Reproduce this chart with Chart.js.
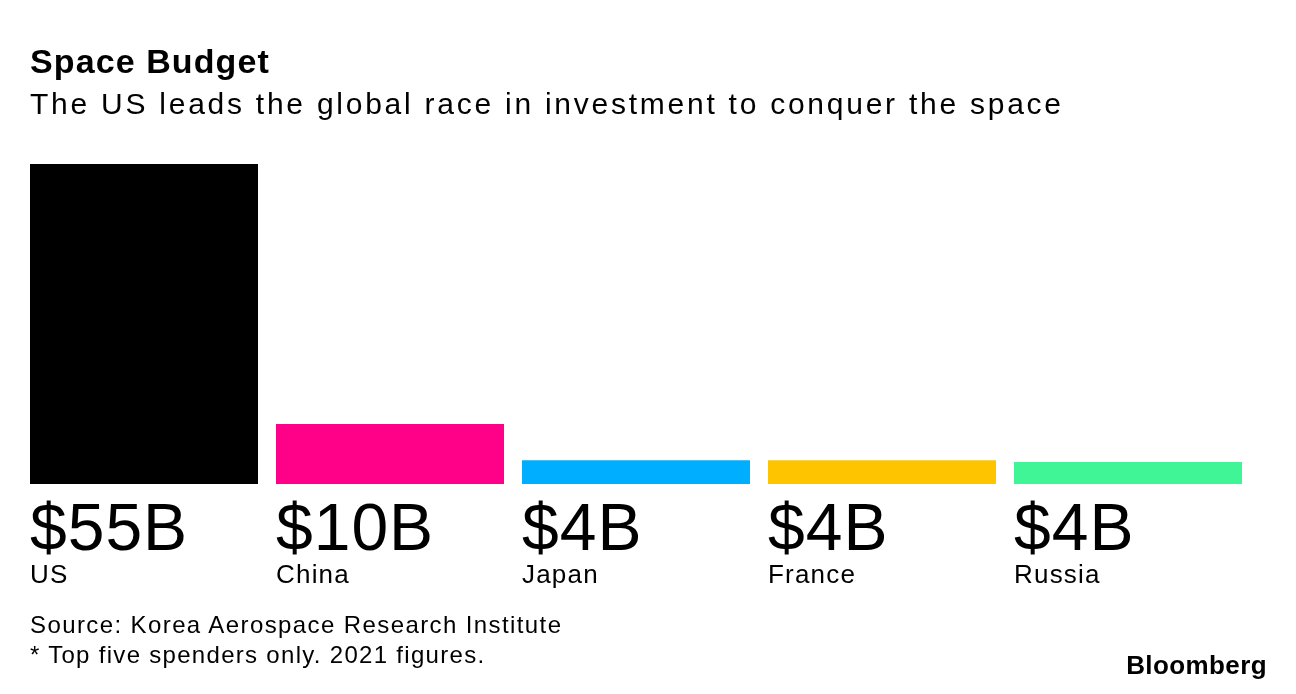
<!DOCTYPE html>
<html>
<head>
<meta charset="utf-8">
<script src="https://cdn.jsdelivr.net/npm/chart.js@4"></script>
<style>
  html, body { margin: 0; padding: 0; background: #fff; }
  body { width: 1296px; height: 694px; position: relative; overflow: hidden; font-family: "Liberation Sans", Arial, sans-serif; color: #000; }
  .t { position: absolute; left: 30px; line-height: 1; white-space: nowrap; }
  #title { top: 44px; font-size: 34px; font-weight: bold; letter-spacing: 1.1px; }
  #subtitle { top: 89px; font-size: 30px; letter-spacing: 2.75px; }
  #source { top: 613px; font-size: 24px; letter-spacing: 1.4px; }
  #note { top: 643px; font-size: 24px; letter-spacing: 1.3px; }
  #logo { position: absolute; right: 29px; left: auto; top: 652px; font-size: 26px; font-weight: bold; letter-spacing: 0.4px; line-height: 1; }
  #wrap { position: absolute; left: 0; top: 0; width: 1296px; height: 694px; }
</style>
</head>
<body>
<div id="wrap"><canvas id="c"></canvas></div>
<div class="t" id="title">Space Budget</div>
<div class="t" id="subtitle">The US leads the global race in investment to conquer the space</div>
<div class="t" id="source">Source: Korea Aerospace Research Institute</div>
<div class="t" id="note">* Top five spenders only. 2021 figures.</div>
<div id="logo">Bloomberg</div>
<script>
const categories = ["US", "China", "Japan", "France", "Russia"];
const budgets = [55, 10.3, 4.1, 4.1, 3.8];
const valueLabels = ["$55B", "$10B", "$4B", "$4B", "$4B"];
const barColors = ["#000000", "#ff0088", "#00aeff", "#ffc400", "#40f595"];

const labelPlugin = {
  id: "barLabels",
  afterDatasetsDraw(chart) {
    const ctx = chart.ctx;
    const meta = chart.getDatasetMeta(0);
    const bottom = chart.chartArea.bottom;
    ctx.save();
    ctx.fillStyle = "#000";
    ctx.textAlign = "left";
    ctx.textBaseline = "alphabetic";
    meta.data.forEach((bar, i) => {
      const left = bar.x - bar.width / 2;
      ctx.font = '66px "Liberation Sans", Arial, sans-serif';
      ctx.letterSpacing = "1px";
      ctx.fillText(valueLabels[i], left, bottom + 66);
      ctx.font = '26px "Liberation Sans", Arial, sans-serif';
      ctx.letterSpacing = "1.2px";
      ctx.fillText(categories[i], left, bottom + 99);
    });
    ctx.letterSpacing = "0px";
    ctx.restore();
  }
};

new Chart(document.getElementById("c"), {
  type: "bar",
  data: {
    labels: categories,
    datasets: [{
      data: budgets,
      backgroundColor: barColors,
      borderWidth: 0,
      barPercentage: 228 / 246,
      categoryPercentage: 1
    }]
  },
  options: {
    responsive: true,
    maintainAspectRatio: false,
    animation: false,
    layout: { padding: { left: 21, right: 45, top: 164, bottom: 210 } },
    plugins: { legend: { display: false }, tooltip: { enabled: false }, title: { display: false } },
    scales: {
      x: { display: false, grid: { display: false } },
      y: { display: false, min: 0, max: 55, grid: { display: false } }
    }
  },
  plugins: [labelPlugin]
});
</script>
</body>
</html>
